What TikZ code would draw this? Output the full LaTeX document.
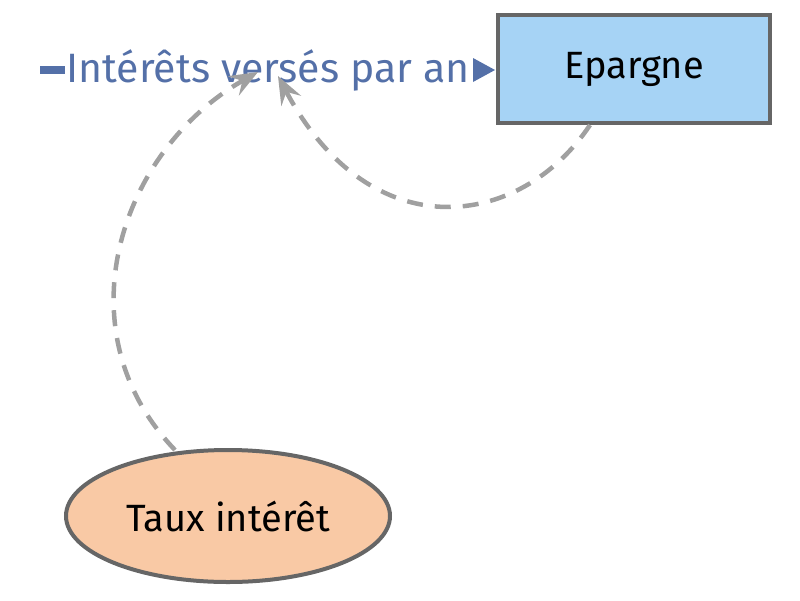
\documentclass[tikz,border=0pt]{standalone}
\usepackage{fontspec}
\setmainfont{Fira Sans}
\usetikzlibrary{arrows.meta,shapes.geometric}
\definecolor{flowc}{HTML}{5470A8}
\definecolor{stockc}{HTML}{A6D3F5}
\definecolor{auxc}{HTML}{F9C9A5}
\definecolor{edgec}{HTML}{666666}
\definecolor{linkc}{HTML}{A0A0A0}
\tikzset{
  stockbox/.style={draw=edgec,line width=4pt,fill=stockc,minimum width=272pt,minimum height=108pt,font=\fontsize{38}{44}\selectfont},
  auxnode/.style={ellipse,draw=edgec,line width=4pt,fill=auxc,minimum width=324pt,minimum height=132pt,inner sep=0,font=\fontsize{38}{44}\selectfont},
  link/.style={draw=linkc,line width=4.5pt,dash pattern=on 16pt off 12pt,-{Stealth[length=28pt,width=22pt,inset=10pt]}},
}
\begin{document}
\begin{tikzpicture}[x=1pt,y=-1pt]
\useasboundingbox (0,0) rectangle (800,600);
\node[stockbox] (ep) at (634,69) {Epargne};
\node[auxnode] (ti) at (228,516) {Taux intérêt};
\node[text=flowc,font=\fontsize{41}{46}\selectfont,inner sep=0] (fl) at (268,70) {Intérêts versés par an};
\coordinate (src) at (40,70);
\coordinate (srcE) at (65,70);
\draw[flowc,line width=8pt] (src) -- (srcE);
\fill[flowc] (473,58) -- (495,70) -- (473,82) -- cycle;
\coordinate (a1) at (175,450);
\coordinate (a2) at (590,125);
\draw[link] (a1) .. controls (60,330) and (120,150) .. (258,72);
\draw[link] (a2) .. controls (520,230) and (370,250) .. (278,76);
\end{tikzpicture}
\end{document}
